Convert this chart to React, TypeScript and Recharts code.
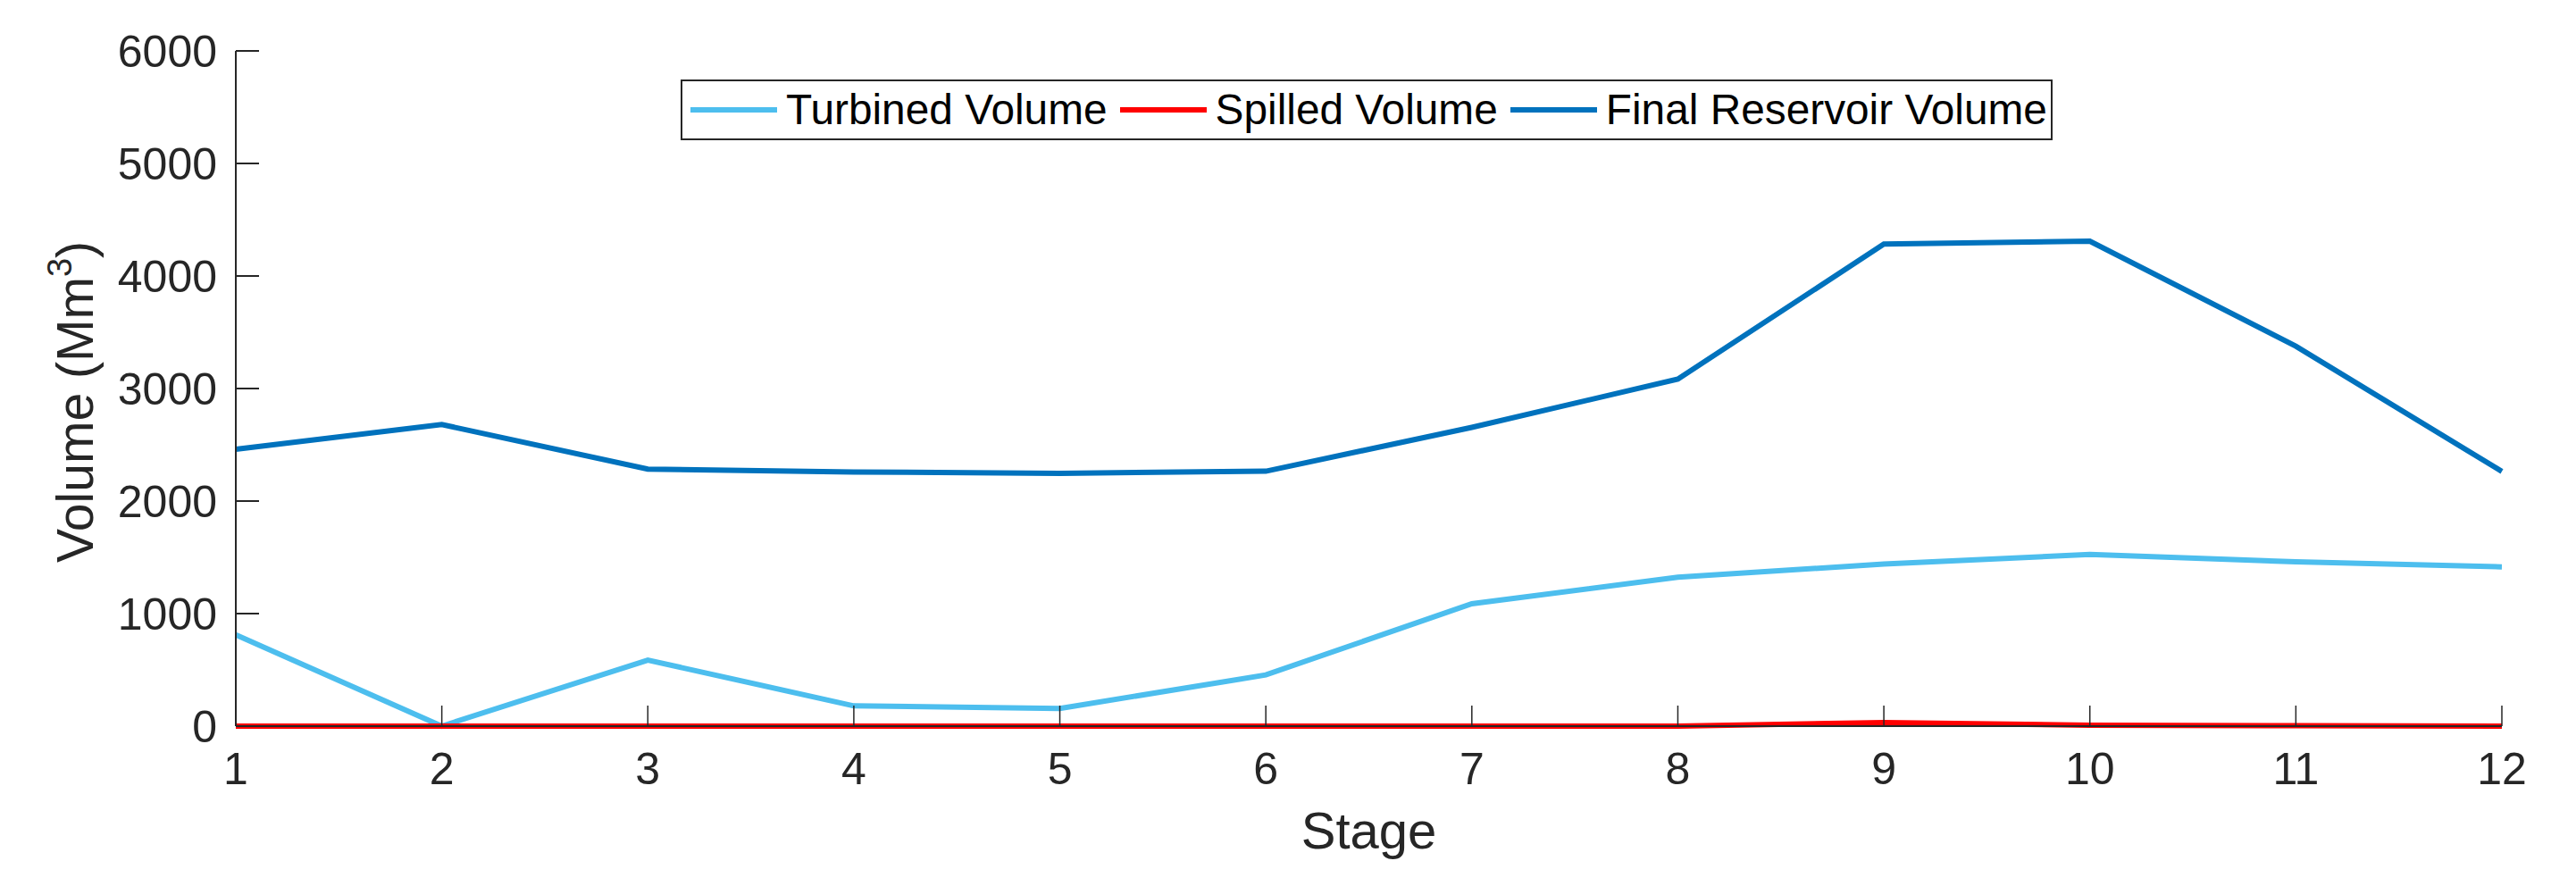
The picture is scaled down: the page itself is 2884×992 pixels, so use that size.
import React from 'react';
import { LineChart, Line, XAxis, YAxis, Legend, Label } from 'recharts';

const stages = [1, 2, 3, 4, 5, 6, 7, 8, 9, 10, 11, 12];
const turbinedVolume = [811, 0, 587, 180, 157, 455, 1087, 1324, 1440, 1525, 1460, 1415];
const spilledVolume = [0, 0, 0, 0, 0, 0, 0, 0, 32, 8, 3, 0];
const finalReservoirVolume = [2461, 2680, 2284, 2258, 2247, 2265, 2655, 3084, 4283, 4309, 3376, 2263];
const yTicks = [0, 1000, 2000, 3000, 4000, 5000, 6000];

const seriesInfo = [
  { key: 'turbined', name: 'Turbined Volume', color: '#4DBEEE' },
  { key: 'spilled', name: 'Spilled Volume', color: '#FF0000' },
  { key: 'final', name: 'Final Reservoir Volume', color: '#0072BD' },
];

const data = stages.map((stage, i) => ({
  stage,
  turbined: turbinedVolume[i],
  spilled: spilledVolume[i],
  final: finalReservoirVolume[i],
}));

const FONT = '"Liberation Sans", Arial, Helvetica, sans-serif';
const AXIS = '#262626';

function XTick(props: any) {
  const { x, y, payload } = props;
  return (
    <g>
      <line x1={x} y1={y} x2={x} y2={y - 23} stroke={AXIS} strokeWidth={1.5} />
      <text x={x} y={y + 65} textAnchor="middle" fill={AXIS} fontSize={50} fontFamily={FONT}>
        {payload.value}
      </text>
    </g>
  );
}

function YTick(props: any) {
  const { x, y, payload } = props;
  return (
    <g>
      <line x1={x} y1={y} x2={x + 26} y2={y} stroke={AXIS} strokeWidth={2} />
      <text x={x - 21} y={y + 18} textAnchor="end" fill={AXIS} fontSize={50} fontFamily={FONT}>
        {payload.value}
      </text>
    </g>
  );
}

function YLabel(props: any) {
  const vb = props.viewBox || { x: 0, y: 57, width: 264, height: 756 };
  const cx = 104;
  const cy = vb.y + vb.height / 2 + 15;
  return (
    <text
      x={cx}
      y={cy}
      transform={`rotate(-90, ${cx}, ${cy})`}
      textAnchor="middle"
      fill={AXIS}
      fontSize={57}
      fontFamily={FONT}
    >
      Volume (Mm
      <tspan fontSize={38} dy={-24}>3</tspan>
      <tspan dy={24}>)</tspan>
    </text>
  );
}

function LegendBox() {
  return (
    <div
      style={{
        display: 'flex',
        alignItems: 'center',
        height: 64,
        width: 1532,
        border: `2px solid ${AXIS}`,
        background: '#fff',
        boxSizing: 'content-box',
        fontFamily: FONT,
        fontSize: 47.8,
        color: '#000',
      }}
    >
      {seriesInfo.map((s, i) => (
        <div key={s.key} style={{ display: 'flex', alignItems: 'center', marginLeft: i === 0 ? 9 : 14 }}>
          <svg width={97} height={10} style={{ marginRight: 10 }}>
            <line x1={0} y1={5} x2={97} y2={5} stroke={s.color} strokeWidth={6} />
          </svg>
          <span style={{ whiteSpace: 'nowrap', lineHeight: '48px' }}>{s.name}</span>
        </div>
      ))}
    </div>
  );
}

export default function App() {
  return (
    <div style={{ position: 'absolute', left: 0, top: 0, background: '#fff' }}>
      <LineChart width={2884} height={992} data={data} margin={{ top: 57, right: 83, bottom: 0, left: 0 }}>
        <XAxis
          dataKey="stage"
          type="number"
          domain={[1, 12]}
          ticks={stages}
          interval={0}
          height={179}
          tickSize={0}
          tickMargin={0}
          tickLine={false}
          tick={<XTick />}
          axisLine={{ stroke: AXIS, strokeWidth: 2 }}
        >
          <Label value="Stage" position="insideBottom" offset={42} fill={AXIS} fontSize={58} fontFamily={FONT} />
        </XAxis>
        <YAxis
          type="number"
          domain={[0, 6000]}
          ticks={yTicks}
          interval={0}
          width={264}
          tickSize={0}
          tickMargin={0}
          tickLine={false}
          tick={<YTick />}
          axisLine={{ stroke: AXIS, strokeWidth: 2 }}
        >
          <Label content={<YLabel />} />
        </YAxis>
        <Legend
          layout="horizontal"
          verticalAlign="middle"
          content={<LegendBox />}
          wrapperStyle={{ position: 'absolute', left: 762, top: 89, width: 'auto' }}
        />
        {seriesInfo.map((s) => (
          <Line
            key={s.key}
            type="linear"
            dataKey={s.key}
            name={s.name}
            stroke={s.color}
            strokeWidth={6}
            dot={false}
            activeDot={false}
            isAnimationActive={false}
          />
        ))}
      </LineChart>
    </div>
  );
}
